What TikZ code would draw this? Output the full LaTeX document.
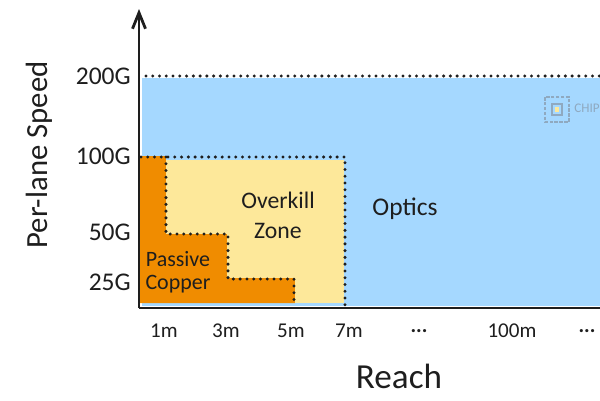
\documentclass[tikz,border=0pt]{standalone}
\usepackage{fontspec}
\setmainfont{Carlito}
\usetikzlibrary{arrows.meta}
\definecolor{opticsblue}{HTML}{A5D8FF}
\definecolor{overkillyellow}{HTML}{FDE89A}
\definecolor{copperorange}{HTML}{F08C00}
\definecolor{inkblack}{HTML}{1E1E1E}
\definecolor{markgray}{HTML}{8FA9C0}

\begin{document}
\begin{tikzpicture}[
  x=0.02cm, y=-0.02cm,
  ticklabel/.style={font=\fontsize{12}{14}\selectfont, text=inkblack, inner sep=0pt},
  speedlabel/.style={font=\fontsize{14.5}{16}\selectfont, text=inkblack, inner sep=0pt, anchor=east},
  regionlabel/.style={font=\fontsize{13.5}{16}\selectfont, text=inkblack, align=center, inner sep=0pt},
  axistitle/.style={font=\fontsize{17}{20}\selectfont, text=inkblack, inner sep=0pt},
  axisline/.style={line width=1.6pt, draw=inkblack},
  dotline/.style={line width=1.9pt, draw=inkblack, line cap=round, dash pattern=on 0pt off 3.85pt},
  markbox/.style={draw=markgray, line width=0.8pt}
]
  \useasboundingbox (0,0) rectangle (600,400);
  \clip (0,0) rectangle (600,400);

  % Regions
  \fill[opticsblue] (142,78) rectangle (600,306);
  \fill[overkillyellow] (166,160) rectangle (344,303);
  \fill[copperorange] (140,156) -- (166,156) -- (166,234) -- (227,234) -- (227,278)
    -- (295,278) -- (295,303) -- (140,303) -- cycle;

  % Watermark
  \draw[markbox, dash pattern=on 2pt off 0.8pt] (545,97) rectangle (569,122);
  \draw[markbox] (552,104) rectangle (562,115);
  \fill[overkillyellow] (555,107) rectangle (559,112);
  \node[font=\fontsize{7.5}{8}\selectfont, text=markgray, anchor=west, inner sep=0pt] (mark) at (574,108) {CHIP};

  % Dotted limits
  \draw[dotline] (146,76) -- (600,76);
  \draw[dotline] (141,157) -- (345,157) -- (345,306);
  \draw[dotline] (166,157) -- (166,234) -- (228,234) -- (228,279) -- (294,279) -- (294,303);

  % Axes
  \coordinate (origin) at (139,308);
  \coordinate (ytop) at (139,9);
  \coordinate (xend) at (600,308);
  \draw[axisline, -{Straight Barb[length=3.2mm, width=2.6mm]}] (origin) -- (ytop);
  \draw[axisline] (origin) -- (xend);

  % Speed labels
  \node[speedlabel] (s200) at (131,76) {200G};
  \node[speedlabel] (s100) at (131,156) {100G};
  \node[speedlabel] (s50) at (131,232) {50G};
  \node[speedlabel] (s25) at (131,282) {25G};

  % Reach labels
  \node[ticklabel] (r1) at (164,331) {1m};
  \node[ticklabel] (r3) at (226,331) {3m};
  \node[ticklabel] (r5) at (291,331) {5m};
  \node[ticklabel] (r7) at (349,331) {7m};
  \node[ticklabel, font=\bfseries\fontsize{12}{14}\selectfont] (rdots) at (419,331) {...};
  \node[ticklabel] (r100) at (512,331) {100m};
  \node[ticklabel, font=\bfseries\fontsize{12}{14}\selectfont] (rmore) at (587,331) {...};

  % Titles and regions
  \node[axistitle, font=\fontsize{17.5}{20}\selectfont, rotate=90] (speed) at (39,155) {Per-lane Speed};
  \node[axistitle, font=\fontsize{20}{22}\selectfont] (reach) at (399,376) {Reach};
  \node[regionlabel] (overkill) at (278,215) {Overkill\\[1pt]Zone};
  \node[regionlabel, font=\fontsize{14.5}{16}\selectfont] (optics) at (405,209) {Optics};
  \node[regionlabel, font=\fontsize{12.5}{14}\selectfont] (copper) at (178,272) {Passive\\[-1pt]Copper};
\end{tikzpicture}
\end{document}
